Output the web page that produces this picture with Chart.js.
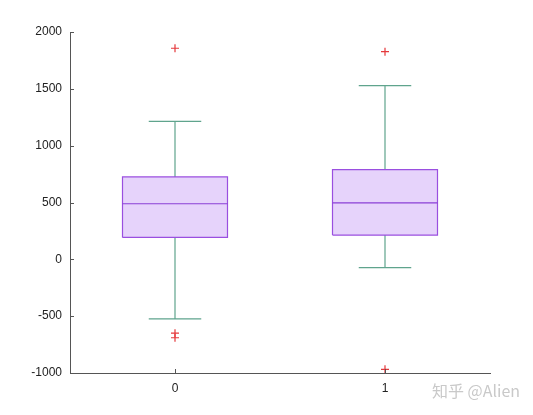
<!DOCTYPE html>
<html>
<head>
<meta charset="utf-8">
<script src="https://cdn.jsdelivr.net/npm/chart.js@4.4.1/dist/chart.umd.min.js"></script>
<style>
  html, body { margin: 0; padding: 0; background: #fff; }
  #wrap { position: relative; width: 533px; height: 415px; }
  #mark {
    position: absolute; left: 432px; top: 378px;
    font: 16px "Noto Sans CJK SC", "Liberation Sans", sans-serif;
    color: #c9c9c9; white-space: nowrap;
  }
</style>
</head>
<body>
<div id="wrap">
  <canvas id="chart" width="533" height="415"></canvas>
  <div id="mark">知乎 @Alien</div>
</div>
<script>
// Box plot values, one entry per group
const groups = [0, 1];
const q1 = [193, 213];
const median = [489, 497];
const q3 = [725, 789];
const whiskerLow = [-524, -73];
const whiskerHigh = [1213, 1529];
const outliers = [[1857, -650, -690], [1827, -968]];
const yTicks = [-1000, -500, 0, 500, 1000, 1500, 2000];

const BOX_HALF = 0.25;
const CAP_HALF = 0.125;
const FONT = "'Liberation Sans', Arial, sans-serif";

const datasets = [];

groups.forEach((g, i) => {
    // whiskers + caps (null points break the line)
    datasets.push({
        type: 'line',
        order: 3,
        data: [
            { x: g, y: q3[i] }, { x: g, y: whiskerHigh[i] }, { x: g, y: null },
            { x: g - CAP_HALF, y: whiskerHigh[i] }, { x: g + CAP_HALF, y: whiskerHigh[i] }, { x: g, y: null },
            { x: g, y: q1[i] }, { x: g, y: whiskerLow[i] }, { x: g, y: null },
            { x: g - CAP_HALF, y: whiskerLow[i] }, { x: g + CAP_HALF, y: whiskerLow[i] }
        ],
        borderColor: '#5fa48d',
        borderWidth: 1.2,
        pointRadius: 0,
        spanGaps: false,
        fill: false
    });

    // box
    datasets.push({
        type: 'line',
        order: 2,
        data: [
            { x: g - BOX_HALF, y: q1[i] }, { x: g + BOX_HALF, y: q1[i] },
            { x: g + BOX_HALF, y: q3[i] }, { x: g - BOX_HALF, y: q3[i] },
            { x: g - BOX_HALF, y: q1[i] }
        ],
        borderColor: '#9a4fe0',
        backgroundColor: '#e6d3fb',
        borderWidth: 1.2,
        pointRadius: 0,
        fill: 'shape'
    });

    // median
    datasets.push({
        type: 'line',
        order: 1,
        data: [{ x: g - BOX_HALF, y: median[i] }, { x: g + BOX_HALF, y: median[i] }],
        borderColor: '#8a3fd6',
        borderWidth: 1.2,
        pointRadius: 0,
        fill: false
    });

    // outliers
    datasets.push({
        type: 'scatter',
        order: 0,
        data: outliers[i].map(v => ({ x: g, y: v })),
        pointStyle: 'cross',
        pointRadius: 4,
        borderColor: '#e5383b',
        borderWidth: 1.2
    });
});

// inward tick marks
const innerTicks = {
    id: 'innerTicks',
    afterDraw(chart) {
        const ctx = chart.ctx;
        const xs = chart.scales.x, ys = chart.scales.y;
        ctx.save();
        ctx.strokeStyle = '#555';
        ctx.lineWidth = 1;
        ctx.beginPath();
        ys.ticks.forEach(t => {
            const py = Math.round(ys.getPixelForValue(t.value)) + 0.5;
            ctx.moveTo(xs.left, py);
            ctx.lineTo(xs.left + 4, py);
        });
        xs.ticks.forEach(t => {
            const px = Math.round(xs.getPixelForValue(t.value)) + 0.5;
            ctx.moveTo(px, ys.bottom);
            ctx.lineTo(px, ys.bottom - 4);
        });
        ctx.stroke();
        ctx.restore();
    }
};

new Chart(document.getElementById('chart'), {
    type: 'scatter',
    data: { datasets },
    options: {
        responsive: false,
        animation: false,
        layout: { padding: { left: 0, right: 43, top: 32, bottom: 0 } },
        plugins: { legend: { display: false }, tooltip: { enabled: false } },
        scales: {
            x: {
                type: 'linear',
                min: -0.5,
                max: 1.5,
                afterBuildTicks: s => { s.ticks = groups.map(v => ({ value: v })); },
                afterFit: s => { s.height = 42; },
                grid: { display: false, drawTicks: false },
                border: { color: '#555', width: 1 },
                ticks: { color: '#222', padding: 8, font: { family: FONT, size: 12 }, callback: v => String(v) }
            },
            y: {
                type: 'linear',
                min: -1000,
                max: 2000,
                afterBuildTicks: s => { s.ticks = yTicks.map(v => ({ value: v })); },
                afterFit: s => { s.width = 70; },
                grid: { display: false, drawTicks: false },
                border: { color: '#555', width: 1 },
                ticks: { color: '#222', padding: 8, font: { family: FONT, size: 12 }, callback: v => String(v) }
            }
        }
    },
    plugins: [innerTicks]
});
</script>
</body>
</html>
